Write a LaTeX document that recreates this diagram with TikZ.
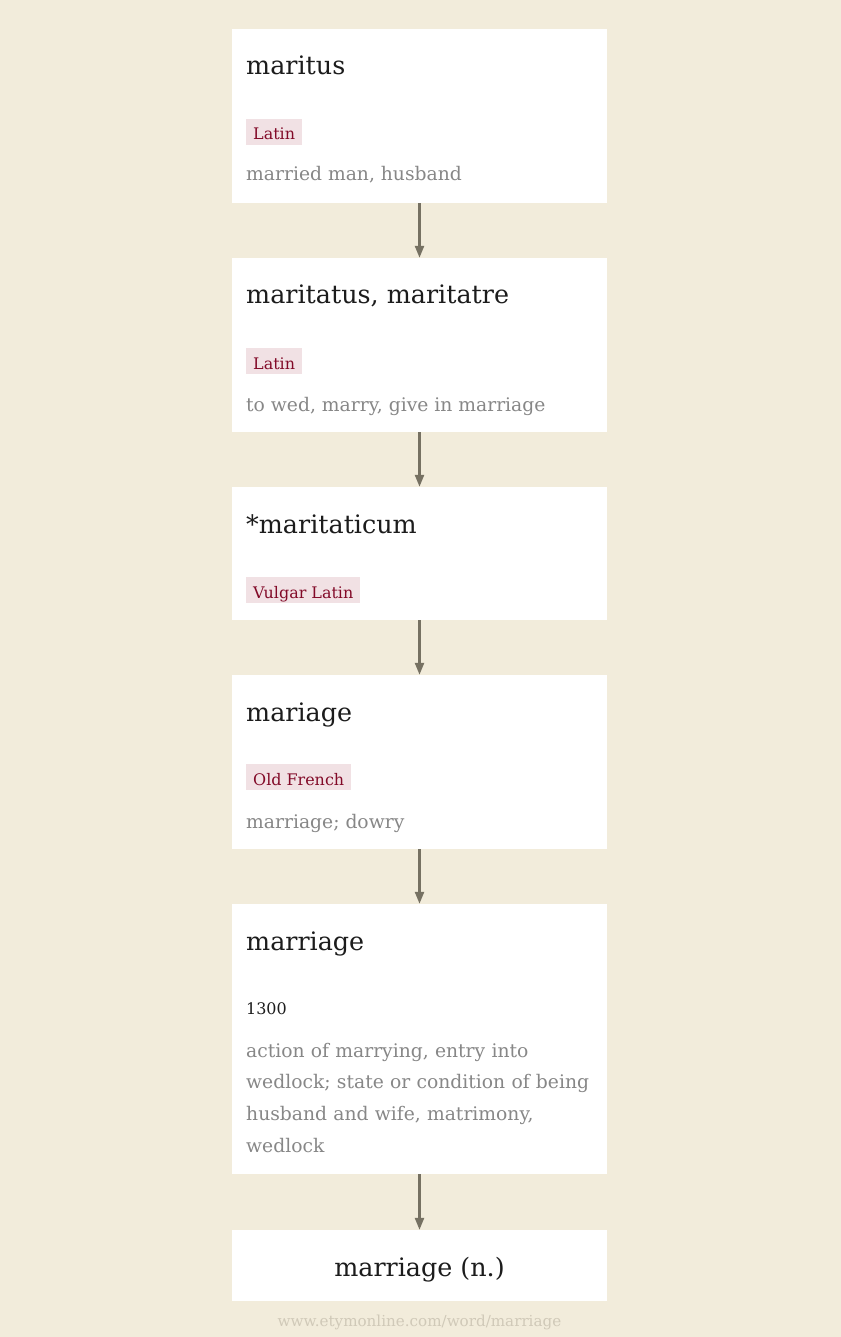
\documentclass[tikz,border=0pt]{standalone}
\usepackage{fontspec}
\setmainfont{DejaVu Serif}
\usetikzlibrary{arrows.meta}
\definecolor{bgc}{RGB}{242,236,219}
\definecolor{titlec}{RGB}{28,28,28}
\definecolor{glossc}{RGB}{135,135,135}
\definecolor{tagbg}{RGB}{241,225,228}
\definecolor{tagfg}{RGB}{130,10,40}
\definecolor{arrc}{RGB}{118,113,98}
\definecolor{footc}{RGB}{208,201,184}
\tikzset{
  card/.style={fill=white, draw=none, inner sep=0pt, minimum width=375bp},
  ttl/.style={anchor=base west, inner sep=0pt, text=titlec, font=\fontsize{25.5}{30}\selectfont},
  tag/.style={anchor=base west, fill=tagbg, text=tagfg, inner xsep=7bp, inner ysep=0pt, text height=21bp, text depth=5bp, font=\fontsize{16}{19}\selectfont},
  gloss/.style={anchor=base west, inner sep=0pt, text=glossc, font=\fontsize{18.8}{32}\selectfont, align=left},
  year/.style={anchor=base west, inner sep=0pt, text=titlec, font=\fontsize{16}{19}\selectfont},
  conn/.style={draw=arrc, line width=2.4bp, -{Triangle[width=9bp,length=12bp]}}
}
\begin{document}
\begin{tikzpicture}[x=1bp,y=-1bp]
\useasboundingbox (0,0) rectangle (840,1337);
\fill[bgc] (-10,-10) rectangle (850,1347);
% cards
\node[card, minimum height=174bp] (b1) at (419.5,116) {};
\node[card, minimum height=174bp] (b2) at (419.5,345) {};
\node[card, minimum height=133bp] (b3) at (419.5,553.5) {};
\node[card, minimum height=174bp] (b4) at (419.5,762) {};
\node[card, minimum height=270bp] (b5) at (419.5,1039) {};
\node[card, minimum height=71bp] (b6) at (419.5,1265.5) {};
% box 1
\node[ttl] (t1) at (246,75) {maritus};
\node[tag] (g1) at (246,140) {Latin};
\node[gloss] (d1) at (246,181) {married man, husband};
% box 2
\node[ttl] (t2) at (246,304) {maritatus, maritatre};
\node[tag] (g2) at (246,369) {Latin};
\node[gloss] (d2) at (246,411) {to wed, marry, give in marriage};
% box 3
\node[ttl] (t3) at (246,533) {*maritaticum};
\node[tag] (g3) at (246,598) {Vulgar Latin};
% box 4
\node[ttl] (t4) at (246,721) {mariage};
\node[tag] (g4) at (246,785) {Old French};
\node[gloss] (d4) at (246,828) {marriage; dowry};
% box 5
\node[ttl] (t5) at (246,950) {marriage};
\node[year] (y5) at (246,1014) {1300};
\node[gloss, text width=355bp] (d5) at (246,1057) {action of marrying, entry into\\wedlock; state or condition of being\\husband and wife, matrimony,\\wedlock};
% box 6
\node[anchor=base, inner sep=0pt, text=titlec, font=\fontsize{25.5}{30}\selectfont] (t6) at (419.5,1276) {marriage (n.)};
% footer
\node[anchor=base, inner sep=0pt, text=footc, font=\fontsize{15.2}{18}\selectfont] (foot) at (419.5,1326) {www.etymonline.com/word/marriage};
% connectors
\draw[conn] (b1.south) -- (b2.north);
\draw[conn] (b2.south) -- (b3.north);
\draw[conn] (b3.south) -- (b4.north);
\draw[conn] (b4.south) -- (b5.north);
\draw[conn] (b5.south) -- (b6.north);
\end{tikzpicture}
\end{document}
